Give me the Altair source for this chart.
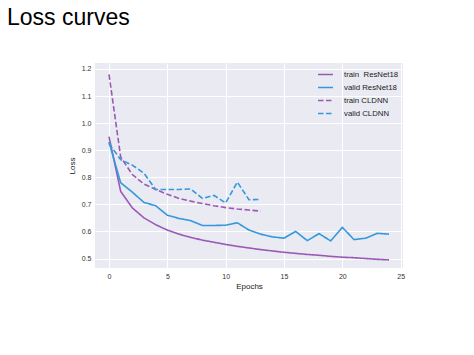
import altair as alt
import pandas as pd

epochs_resnet = list(range(25))
epochs_cldnn = list(range(14))

train_resnet = [0.950, 0.748, 0.687, 0.650, 0.625, 0.605, 0.590, 0.578, 0.568, 0.560,
                0.552, 0.545, 0.539, 0.533, 0.528, 0.523, 0.519, 0.515, 0.512, 0.508,
                0.505, 0.503, 0.500, 0.497, 0.495]
valid_resnet = [0.930, 0.780, 0.745, 0.707, 0.695, 0.660, 0.648, 0.640, 0.622, 0.622,
                0.623, 0.632, 0.605, 0.590, 0.580, 0.575, 0.600, 0.566, 0.592, 0.565,
                0.615, 0.570, 0.575, 0.593, 0.590]
train_cldnn = [1.180, 0.875, 0.810, 0.775, 0.755, 0.737, 0.722, 0.712, 0.703, 0.695,
               0.688, 0.683, 0.679, 0.675]
valid_cldnn = [0.925, 0.865, 0.845, 0.815, 0.755, 0.755, 0.755, 0.757, 0.722, 0.733,
               0.705, 0.782, 0.717, 0.718]

series_names = ["train\u00a0\u00a0ResNet18", "valid ResNet18", "train CLDNN", "valid CLDNN"]
series_colors = ["#9b59b6", "#3498db", "#9b59b6", "#3498db"]
series_dashes = [[1, 0], [1, 0], [5.5, 2.5], [5.5, 2.5]]

rows = []
for name, xs, ys in [
    (series_names[0], epochs_resnet, train_resnet),
    (series_names[1], epochs_resnet, valid_resnet),
    (series_names[2], epochs_cldnn, train_cldnn),
    (series_names[3], epochs_cldnn, valid_cldnn),
]:
    for x, y in zip(xs, ys):
        rows.append({"Epochs": x, "Loss": y, "series": name})
df = pd.DataFrame(rows)

legend = alt.Legend(
    title=None, orient="none", legendX=222, legendY=3,
    symbolType="stroke", symbolSize=225, symbolStrokeWidth=1.6,
    labelFontSize=7.8, labelColor="#222222", labelFont="Liberation Sans",
    rowPadding=-3, labelOffset=10,
)

chart = alt.Chart(df).mark_line(strokeWidth=1.6).encode(
    x=alt.X("Epochs:Q", scale=alt.Scale(domain=[-1.2, 25.2], nice=False, zero=False),
            axis=alt.Axis(values=[0, 5, 10, 15, 20, 25], format="d", title="Epochs")),
    y=alt.Y("Loss:Q", scale=alt.Scale(domain=[0.465, 1.222], nice=False, zero=False),
            axis=alt.Axis(values=[0.5, 0.6, 0.7, 0.8, 0.9, 1.0, 1.1, 1.2], format=".1f", title="Loss")),
    color=alt.Color("series:N", scale=alt.Scale(domain=series_names, range=series_colors), legend=legend),
    strokeDash=alt.StrokeDash("series:N", scale=alt.Scale(domain=series_names, range=series_dashes), legend=legend),
    detail="series:N",
).properties(
    width=308, height=205,
    title=alt.TitleParams("Loss curves", anchor="start", frame="group", dx=-88, offset=33,
                          fontSize=23, font="Liberation Sans", fontWeight="normal", color="#000000"),
    autosize=alt.AutoSizeParams(type="none"),
    padding={"left": 95, "top": 63, "right": 71, "bottom": 87},
).configure_view(
    fill="#EAEAF2", stroke=None,
).configure_axis(
    grid=True, gridColor="#FFFFFF", gridWidth=1, domain=False, ticks=False,
    labelFontSize=7, labelColor="#333333", labelFont="Liberation Sans", labelPadding=4,
    titleFontSize=8, titleColor="#222222", titleFont="Liberation Sans", titleFontWeight="normal",
).configure_axisX(titlePadding=3).configure_axisY(titlePadding=5)

chart.save("out.html", embed_options={"renderer": "svg", "actions": False})
